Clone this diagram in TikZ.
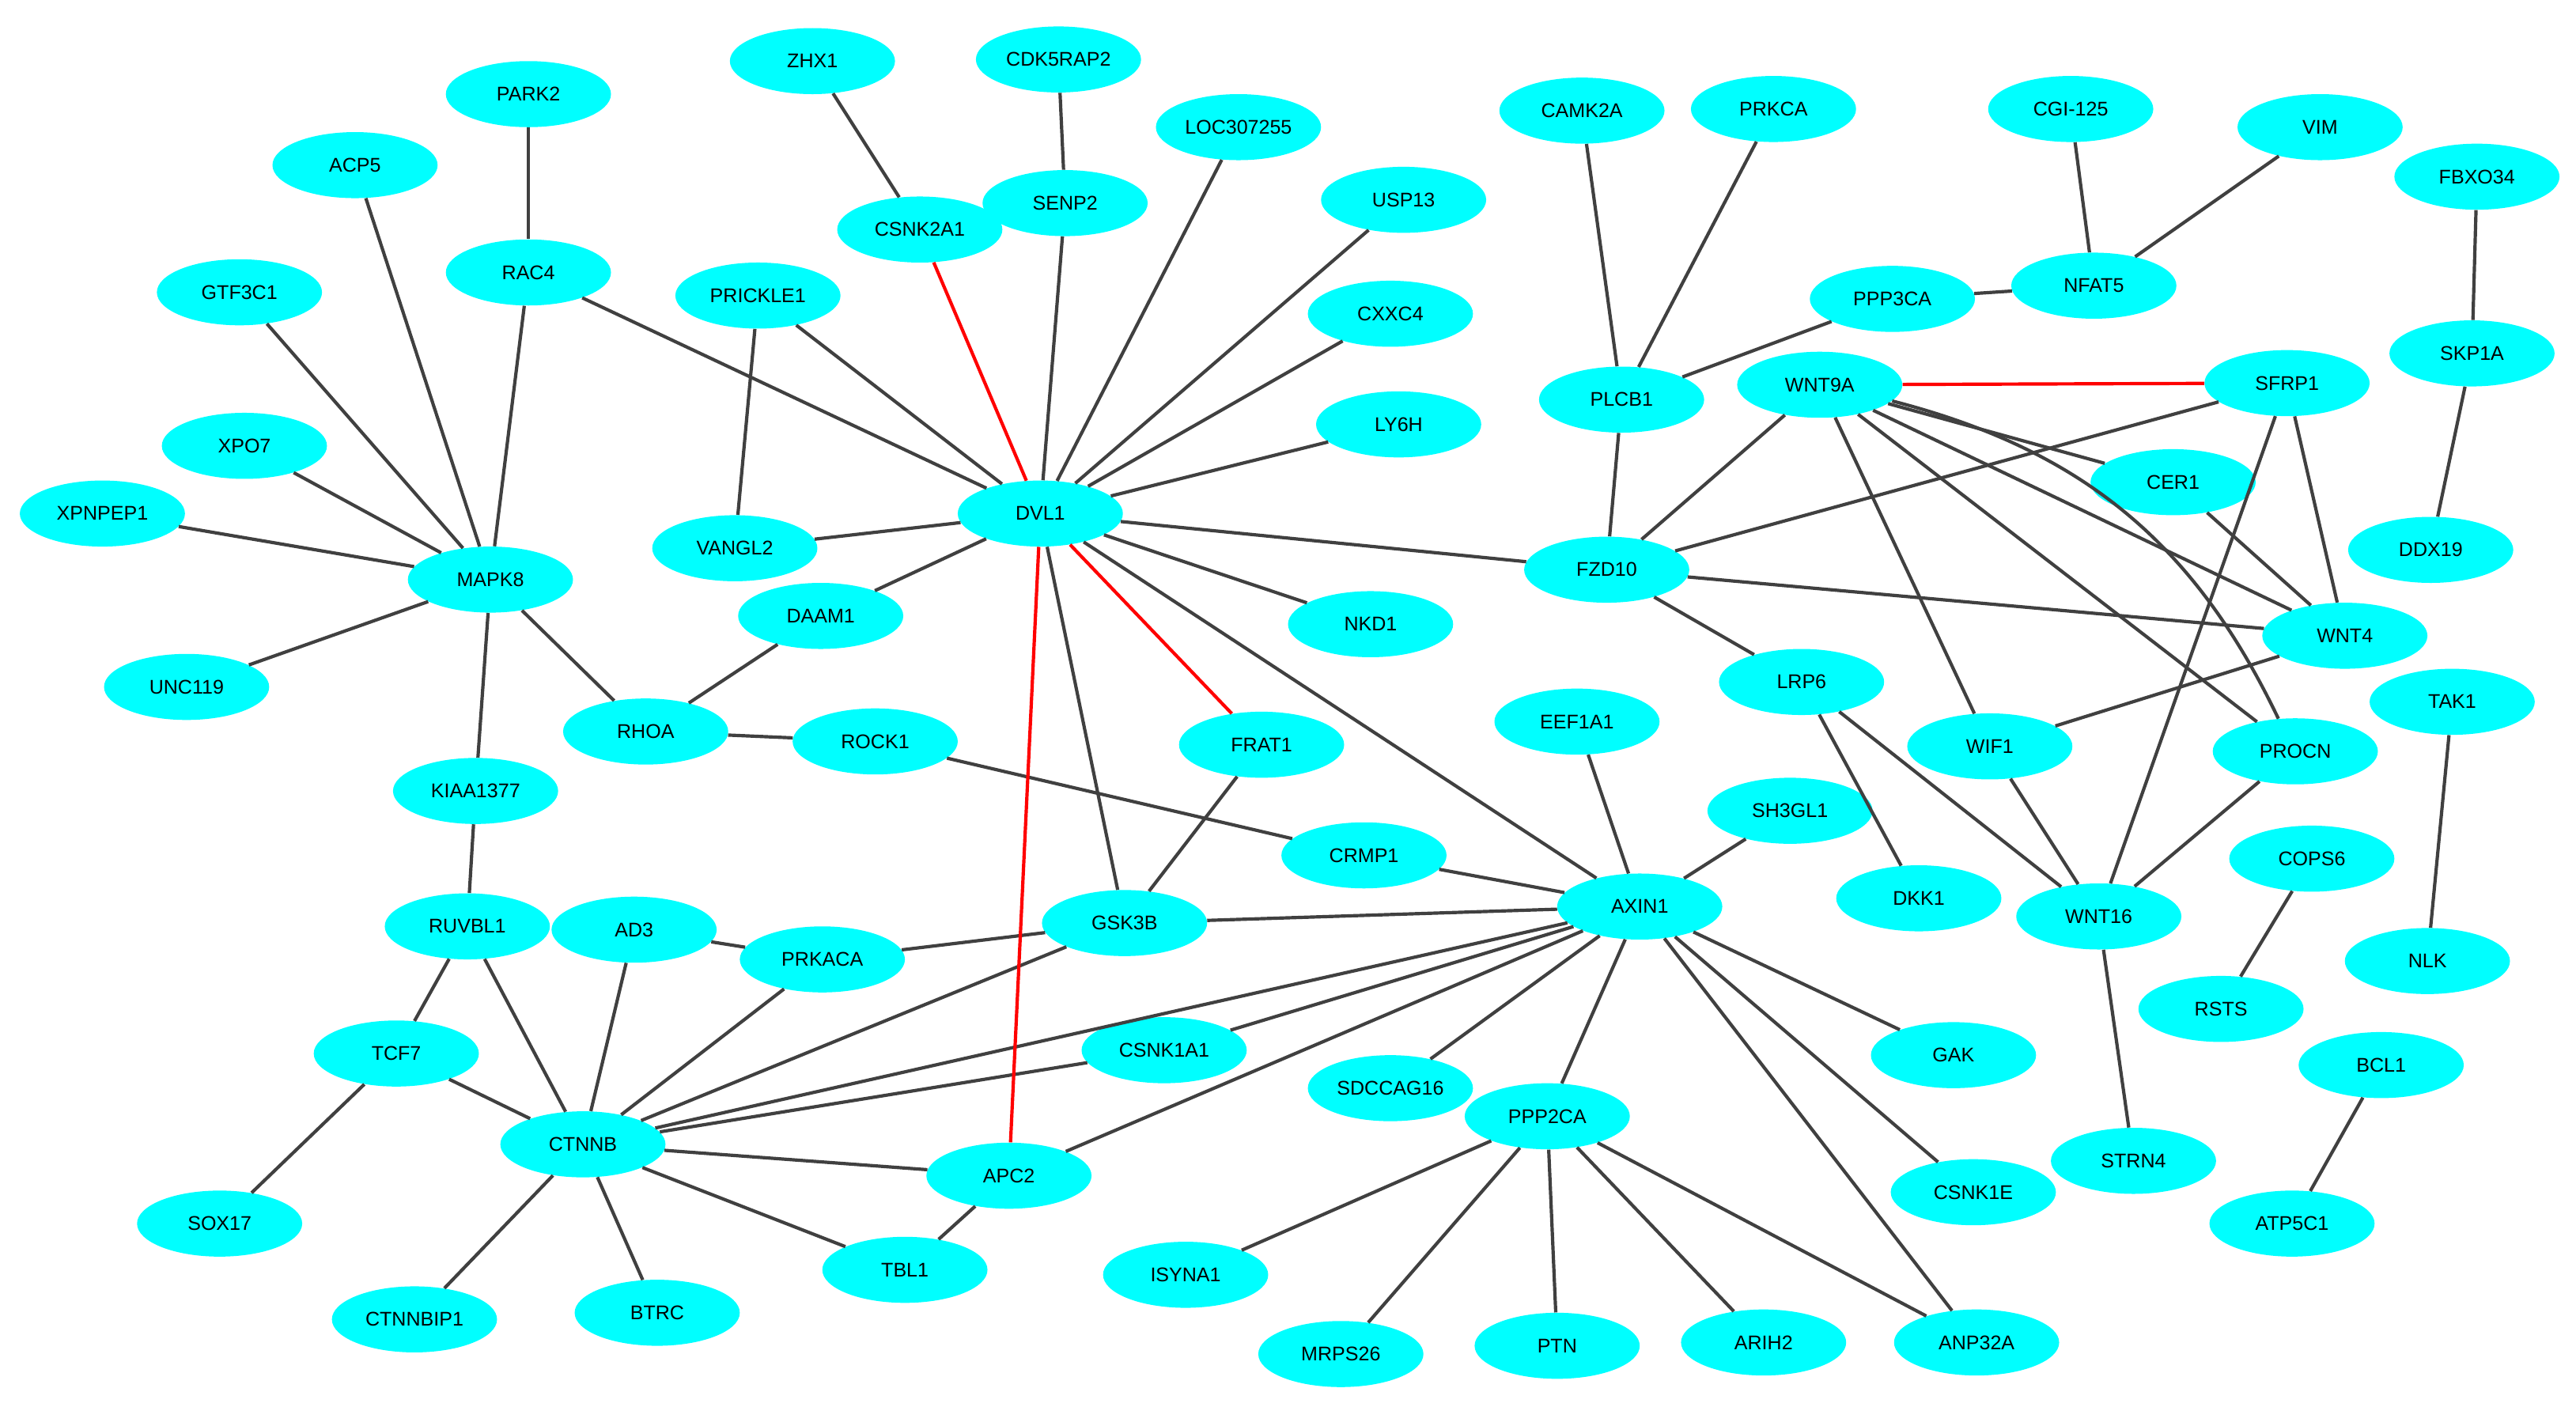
\documentclass[tikz,border=0pt]{standalone}
\usepackage{fontspec}
\setmainfont{Liberation Sans}
\usetikzlibrary{shapes.geometric}
\definecolor{nodec}{RGB}{0,255,255}
\definecolor{edgec}{RGB}{64,64,64}
\tikzset{
 gene/.style={ellipse,fill=nodec,draw=none,minimum width=100pt,minimum height=40pt,inner sep=0pt,font=\fontsize{12}{12}\selectfont},
 ed/.style={draw=edgec,line width=2pt},
 red/.style={draw=red,line width=2pt}
}
\begin{document}
\begin{tikzpicture}[x=1pt,y=-1pt]
\useasboundingbox (0,0) rectangle (1560,852);
\foreach \n/\x/\y in {ZHX1/492/37,CDK5RAP2/641/36,PARK2/320/57,LOC307255/750/77,CAMK2A/958/67,PRKCA/1074/66,CGI-125/1254/66,VIM/1405/77,FBXO34/1500/107,ACP5/215/100,SENP2/645/123,CSNK2A1/557/139,USP13/850/121,RAC4/320/165,PRICKLE1/459/179,GTF3C1/145/177,CXXC4/842/190,PPP3CA/1146/181,NFAT5/1268/173,WNT9A/1102/233,SFRP1/1385/232,SKP1A/1497/214,PLCB1/982/242,LY6H/847/257,XPO7/148/270,CER1/1316/292,XPNPEP1/62/311,DVL1/630/311,VANGL2/445/332,DDX19/1472/333,MAPK8/297/351,FZD10/973/345,DAAM1/497/373,NKD1/830/378,WNT4/1420/385,UNC119/113/416,LRP6/1091/413,RHOA/391/443,ROCK1/530/449,FRAT1/764/451,EEF1A1/955/437,WIF1/1205/452,PROCN/1390/455,TAK1/1485/425,KIAA1377/288/479,SH3GL1/1084/491,CRMP1/826/518,DKK1/1162/544,COPS6/1400/520,RUVBL1/283/561,AD3/384/563,GSK3B/681/559,AXIN1/993/549,WNT16/1271/555,PRKACA/498/581,NLK/1470/582,RSTS/1345/611,TCF7/240/638,CSNK1A1/705/636,GAK/1183/639,BCL1/1442/645,SDCCAG16/842/659,PPP2CA/937/676,CTNNB/353/693,APC2/611/712,CSNK1E/1195/722,STRN4/1292/703,SOX17/133/741,ATP5C1/1388/741,TBL1/548/769,ISYNA1/718/772,CTNNBIP1/251/799,BTRC/398/795,MRPS26/812/820,PTN/943/815,ARIH2/1068/813,ANP32A/1197/813}
  \node[gene] (\n) at (\x,\y) {\n};
\begin{scope}[on background layer/.try]
\end{scope}
\begin{pgfonlayer}{main}
\end{pgfonlayer}
\foreach \a/\b in {ZHX1/CSNK2A1,CDK5RAP2/SENP2,PARK2/RAC4,RAC4/MAPK8,RAC4/DVL1,ACP5/MAPK8,GTF3C1/MAPK8,XPO7/MAPK8,XPNPEP1/MAPK8,UNC119/MAPK8,MAPK8/RHOA,MAPK8/KIAA1377,KIAA1377/RUVBL1,SENP2/DVL1,LOC307255/DVL1,USP13/DVL1,CXXC4/DVL1,LY6H/DVL1,PRICKLE1/DVL1,PRICKLE1/VANGL2,VANGL2/DVL1,DAAM1/DVL1,DAAM1/RHOA,RHOA/ROCK1,ROCK1/CRMP1,CRMP1/AXIN1,DVL1/FZD10,DVL1/NKD1,DVL1/GSK3B,DVL1/AXIN1,FRAT1/GSK3B,CAMK2A/PLCB1,PRKCA/PLCB1,PPP3CA/PLCB1,PPP3CA/NFAT5,CGI-125/NFAT5,VIM/NFAT5,FBXO34/SKP1A,SKP1A/DDX19,PLCB1/FZD10,WNT9A/FZD10,WNT9A/CER1,WNT9A/WNT4,WNT9A/WIF1,WNT9A/PROCN,SFRP1/FZD10,SFRP1/WNT4,SFRP1/WNT16,CER1/WNT4,FZD10/WNT4,FZD10/LRP6,WNT4/WIF1,LRP6/DKK1,LRP6/WNT16,WIF1/WNT16,PROCN/WNT16,WNT16/STRN4,COPS6/RSTS,TAK1/NLK,BCL1/ATP5C1,EEF1A1/AXIN1,SH3GL1/AXIN1,AXIN1/GSK3B,AXIN1/CSNK1A1,AXIN1/CTNNB,AXIN1/APC2,AXIN1/SDCCAG16,AXIN1/PPP2CA,AXIN1/GAK,AXIN1/CSNK1E,AXIN1/ANP32A,GSK3B/PRKACA,GSK3B/CTNNB,AD3/PRKACA,AD3/CTNNB,PRKACA/CTNNB,RUVBL1/TCF7,RUVBL1/CTNNB,TCF7/CTNNB,TCF7/SOX17,CSNK1A1/CTNNB,CTNNB/APC2,CTNNB/TBL1,CTNNB/CTNNBIP1,CTNNB/BTRC,APC2/TBL1,PPP2CA/ISYNA1,PPP2CA/MRPS26,PPP2CA/PTN,PPP2CA/ARIH2,PPP2CA/ANP32A}
  \draw[ed] (\a) -- (\b);
\draw[ed] (WNT9A) to[bend left=25] (PROCN);
\draw[red] (CSNK2A1) -- (DVL1);
\draw[red] (DVL1) -- (FRAT1);
\draw[red] (DVL1) -- (APC2);
\draw[red] (WNT9A) -- (SFRP1);
\end{tikzpicture}
\end{document}
